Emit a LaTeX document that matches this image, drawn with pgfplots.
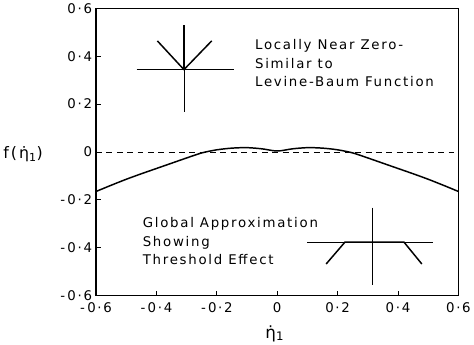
\documentclass[border=0pt]{standalone}
\usepackage{fontspec}
\setmainfont{DejaVu Sans}[LetterSpace=13]
\usepackage{pgfplots}
\pgfplotsset{compat=1.18}
\begin{document}
\begin{tikzpicture}[font=\fontsize{13.5}{16}\selectfont]
\begin{axis}[
  scale only axis, width=367pt, height=291pt,
  xmin=-0.6, xmax=0.6, ymin=-0.6, ymax=0.6,
  axis line style={line width=1.3pt},
  tick align=inside, xtick pos=bottom, ytick pos=left,
  major tick length=5pt, tick style={line width=0.8pt, black},
  xtick={-0.6,-0.4,-0.2,0,0.2,0.4,0.6},
  ytick={-0.6,-0.4,-0.2,0,0.2,0.4,0.6},
  xticklabels={-\,0·6,-\,0·4,-\,0·2,0,0·2,0·4,0·6},
  yticklabels={-\,0·6,-\,0·4,-\,0·2,0,0·2,0·4,0·6},
  xticklabel style={yshift=-4pt},
  yticklabel style={xshift=-0.5pt},
  xlabel={\fontsize{17}{17}\selectfont\.{η}\textsubscript{1}},
  xlabel style={at={(axis description cs:0.493,-0.132)}, anchor=center},
  ylabel={\fontsize{16}{16}\selectfont f(\.{η}\textsubscript{1})},
  ylabel style={rotate=-90, at={(axis description cs:-0.2016,0.491)}, anchor=center},
  clip=false,
]
\addplot[black, dashed, line width=0.7pt, dash pattern=on 6pt off 4.5pt] coordinates {(-0.6,0) (0.6,0)};
\addplot[black, line width=1.5pt, smooth] coordinates {
(-0.6,-0.165) (-0.55,-0.139) (-0.5,-0.114) (-0.45,-0.091) (-0.4,-0.069) (-0.35,-0.047)
(-0.3,-0.025) (-0.25,-0.004) (-0.2,0.009) (-0.15,0.016) (-0.1,0.018) (-0.05,0.013) (0,0.004)
(0.05,0.013) (0.1,0.018) (0.15,0.016) (0.2,0.009) (0.25,-0.004) (0.3,-0.025) (0.35,-0.047)
(0.4,-0.069) (0.45,-0.091) (0.5,-0.114) (0.55,-0.139) (0.6,-0.165)};
% inset 1
\addplot[black, line width=0.7pt] coordinates {(-0.309,0.344) (-0.309,0.167)};
\addplot[black, line width=0.7pt] coordinates {(-0.466,0.344) (-0.142,0.344)};
\addplot[black, line width=1.5pt] coordinates {(-0.309,0.344) (-0.309,0.530)};
\addplot[black, line width=1.5pt] coordinates {(-0.397,0.464) (-0.309,0.344) (-0.217,0.464)};
% inset 2
\addplot[black, line width=0.7pt] coordinates {(0.316,-0.233) (0.316,-0.555)};
\addplot[black, line width=0.7pt] coordinates {(0.100,-0.377) (0.515,-0.377)};
\addplot[black, line width=1.5pt] coordinates {(0.162,-0.468) (0.224,-0.377) (0.420,-0.377) (0.479,-0.468)};
% texts
\node[anchor=base west, inner sep=0pt] at (axis cs:-0.074,0.427) {Locally Near Zero-};
\node[anchor=base west, inner sep=0pt] at (axis cs:-0.074,0.350) {Similar to};
\node[anchor=base west, inner sep=0pt] at (axis cs:-0.074,0.274) {Levine-Baum Function};
\node[anchor=base west, inner sep=0pt] at (axis cs:-0.446,-0.316) {Global Approximation};
\node[anchor=base west, inner sep=0pt] at (axis cs:-0.446,-0.397) {Showing};
\node[anchor=base west, inner sep=0pt] at (axis cs:-0.446,-0.472) {Threshold Effect};
\end{axis}
\end{tikzpicture}
\end{document}
